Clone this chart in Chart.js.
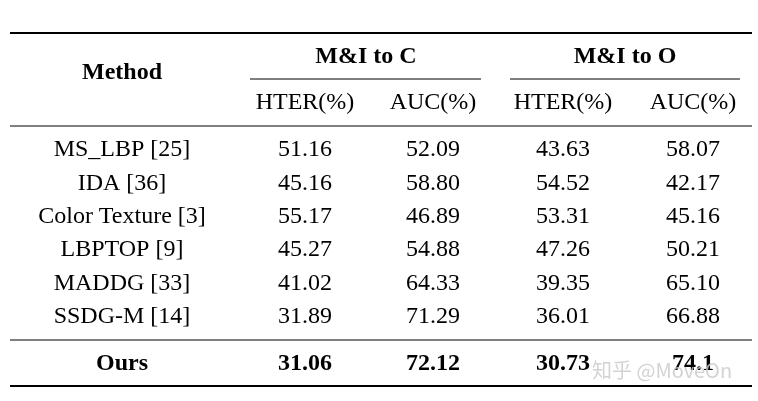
<!DOCTYPE html>
<html><head><meta charset="utf-8">
<script src="https://cdn.jsdelivr.net/npm/chart.js@4/dist/chart.umd.min.js"></script>
<style>html,body{margin:0;padding:0;background:#fff;}canvas{display:block;}</style>
</head><body>
<canvas id="c" width="758" height="401"></canvas>
<script>
const methods = ["MS_LBP [25]","IDA [36]","Color Texture [3]","LBPTOP [9]","MADDG [33]","SSDG-M [14]"];
const hterC = ["51.16","45.16","55.17","45.27","41.02","31.89"];
const aucC  = ["52.09","58.80","46.89","54.88","64.33","71.29"];
const hterO = ["43.63","54.52","53.31","47.26","39.35","36.01"];
const aucO  = ["58.07","42.17","45.16","50.21","65.10","66.88"];
const ours = ["Ours","31.06","72.12","30.73","74.1"];
const groupHeaders = ["M&I to C","M&I to O"];
const subHeaders = ["HTER(%)","AUC(%)","HTER(%)","AUC(%)"];

const colX = [122,305,433,563,693];
const rowY = [150,184,217,250,284,317];
const FONT = '"Liberation Serif", "DejaVu Serif", serif';

const pts = [];
rowY.forEach(y=>colX.forEach(x=>pts.push({x,y})));

const tablePlugin = {
  id:'table',
  afterDatasetsDraw(chart){
    const {ctx, scales:{x,y}} = chart;
    const X = v=>x.getPixelForValue(v), Y = v=>y.getPixelForValue(v);
    ctx.save();
    ctx.fillStyle='#000'; ctx.strokeStyle='#000';
    const hline=(x1,x2,yy,w)=>{ctx.lineWidth=w;ctx.beginPath();ctx.moveTo(X(x1),Y(yy));ctx.lineTo(X(x2),Y(yy));ctx.stroke();};
    hline(10,752,33,2); hline(250,481,79,1); hline(510,740,79,1);
    hline(10,752,126,1); hline(10,752,340,1); hline(10,752,386,2);
    ctx.textAlign='center'; ctx.textBaseline='middle';
    ctx.font='bold 24px '+FONT;
    ctx.fillText("Method",X(122),Y(73));
    ctx.fillText(groupHeaders[0],X(366),Y(57));
    ctx.fillText(groupHeaders[1],X(625),Y(57));
    ctx.font='24px '+FONT;
    subHeaders.forEach((s,i)=>ctx.fillText(s,X(colX[i+1]),Y(103)));
    const cols=[methods,hterC,aucC,hterO,aucO];
    rowY.forEach((ry,r)=>cols.forEach((c,i)=>ctx.fillText(c[r],X(colX[i]),Y(ry))));
    ctx.font='bold 24px '+FONT;
    ours.forEach((s,i)=>ctx.fillText(s,X(colX[i]),Y(364)));
    ctx.font='20px "Noto Sans CJK SC", sans-serif';
    ctx.fillStyle='rgba(200,200,200,0.8)';
    ctx.textAlign='left';
    ctx.fillText("知乎 @MoveOn",X(592),Y(370));
    ctx.restore();
  }
};

new Chart(document.getElementById('c'),{
  type:'scatter',
  data:{datasets:[{data:pts,pointRadius:0,pointHoverRadius:0}]},
  options:{
    responsive:false,animation:false,devicePixelRatio:1,
    layout:{padding:0},
    plugins:{legend:{display:false},tooltip:{enabled:false}},
    scales:{
      x:{type:'linear',min:0,max:758,display:false},
      y:{type:'linear',min:0,max:401,reverse:true,display:false}
    }
  },
  plugins:[tablePlugin]
});
</script>
</body></html>
